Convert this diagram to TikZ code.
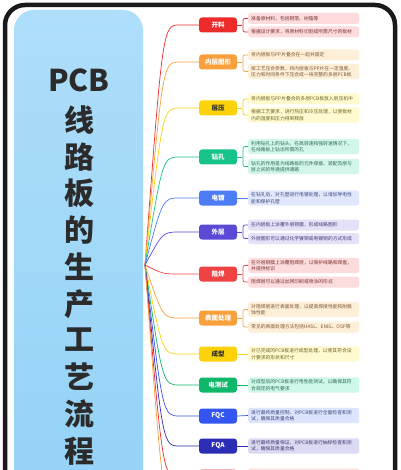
\documentclass[tikz,border=0pt]{standalone}
\usepackage{fontspec}
\setmainfont{Noto Sans CJK SC}
\XeTeXlinebreaklocale "zh"
\usetikzlibrary{calc}
\definecolor{cRed}{HTML}{EE2B2B}
\definecolor{bRed}{HTML}{FCDCDC}
\definecolor{tRed}{HTML}{7A3030}
\definecolor{cOra}{HTML}{F8A03C}
\definecolor{bOra}{HTML}{FEEFD9}
\definecolor{tOra}{HTML}{7A5530}
\definecolor{cYel}{HTML}{FCD20A}
\definecolor{bYel}{HTML}{FFFAD0}
\definecolor{tYel}{HTML}{6E6220}
\definecolor{cGre}{HTML}{17C38A}
\definecolor{bGre}{HTML}{D3F6EA}
\definecolor{tGre}{HTML}{2E6A55}
\definecolor{cBlu}{HTML}{4C7DF5}
\definecolor{bBlu}{HTML}{E1E8FD}
\definecolor{tBlu}{HTML}{3A4878}
\definecolor{cInd}{HTML}{5A4AD6}
\definecolor{bInd}{HTML}{E4E1F9}
\definecolor{tInd}{HTML}{403A70}
\definecolor{cRd2}{HTML}{F04444}
\definecolor{cGr2}{HTML}{0EB868}
\definecolor{bGr2}{HTML}{CFF7EA}
\definecolor{cFqc}{HTML}{3355F0}
\definecolor{bFqc}{HTML}{DDE4FD}
\definecolor{cFqa}{HTML}{2B2DB5}
\definecolor{bFqa}{HTML}{DADAF3}
\definecolor{titleC}{HTML}{2B2B2B}
\definecolor{frameC}{HTML}{1A1A1A}
\definecolor{panTop}{HTML}{AEDEFA}
\definecolor{panMid}{HTML}{C6E9FC}
\definecolor{panBot}{HTML}{92D1F6}
\newcommand{\mbranch}[2]{\draw[br,#2] (root) .. controls ($(#1.west)+(-36,0)$) .. ($(#1.west)+(-19,0)$) -- (#1.west);}
\newcommand{\mbracket}[4]{\draw[br,#4] (#1.east) -- ++(5,0);
  \draw[br,#4,rounded corners=2pt] (#2.west) -- ++(-5,0) |- (#3.west);}
\newcommand{\msingle}[3]{\draw[br,#3] (#1.east) -- (#2.west);}
\begin{document}
\begin{tikzpicture}[x=1pt,y=-1pt,
  titlech/.style={font=\fontsize{30}{30}\selectfont\bfseries, text=titleC, inner sep=0pt},
  cat/.style={rounded corners=3pt, minimum width=38pt, minimum height=15pt, inner sep=1pt,
    font=\fontsize{6.5}{7}\selectfont\bfseries, text=white},
  det/.style={rounded corners=2.5pt, anchor=west, text width=105pt, align=left,
    inner xsep=3pt, inner ysep=2.2pt, minimum height=11pt,
    font=\fontsize{4.8}{6.4}\selectfont},
  br/.style={line width=0.7pt}]
\useasboundingbox (0,0) rectangle (400,470);
\clip (0,0) rectangle (400,470);
\fill[white] (0,0) rectangle (400,470);
\draw[line width=4.5pt, frameC, rounded corners=20pt] (5,5) rectangle (395,540);
\shade[top color=panTop, middle color=panMid, bottom color=panBot, rounded corners=20pt] (14,10) rectangle (143,540);
% title
\node[titlech] (tP) at (79,80) {PCB};
\node[titlech] (t1) at (79,120) {线};
\node[titlech] (t2) at (79,157) {路};
\node[titlech] (t3) at (79,193) {板};
\node[titlech] (t4) at (79,230) {的};
\node[titlech] (t5) at (79,267) {生};
\node[titlech] (t6) at (79,304) {产};
\node[titlech] (t7) at (79,340) {工};
\node[titlech] (t8) at (79,377) {艺};
\node[titlech] (t9) at (79,414) {流};
\node[titlech] (t10) at (79,451) {程};
\coordinate (root) at (145,265);
% 1
\node[cat, fill=cRed] (n1) at (218,25) {开料};
\node[det, fill=bRed, text=tRed] (d1a) at (248,18.5) {准备原材料，包括铜箔、树脂等};
\node[det, fill=bRed, text=tRed] (d1b) at (248,32) {根据设计要求，将原材料切割成所需尺寸的板材};
\mbranch{n1}{cRed}\mbracket{n1}{d1a}{d1b}{cRed}
% 2
\node[cat, fill=cOra] (n2) at (218,62) {内层图形};
\node[det, fill=bOra, text=tOra] (d2a) at (248,55) {将内层板与PP片叠合在一起并固定};
\node[det, fill=bOra, text=tOra] (d2b) at (248,71.5) {按工艺压合参数，将内层板与PP片在一定温度、\\压力和时间条件下压合成一块完整的多层PCB板};
\mbranch{n2}{cOra}\mbracket{n2}{d2a}{d2b}{cOra}
% 3
\node[cat, fill=cYel, text=titleC] (n3) at (218,108) {层压};
\node[det, fill=bYel, text=tYel] (d3a) at (248,99) {将内层板与PP片叠合的多层PCB板放入层压机中};
\node[det, fill=bYel, text=tYel] (d3b) at (248,115) {根据工艺要求，进行热压和冷压处理，以使板材\\内的温度和压力得到释放};
\mbranch{n3}{cYel}\mbracket{n3}{d3a}{d3b}{cYel}
% 4
\node[cat, fill=cGre] (n4) at (218,157) {钻孔};
\node[det, fill=bGre, text=tGre] (d4a) at (248,146.5) {利用钻孔上的钻头，在高转速和强转速情况下，\\在线路板上钻出所需的孔};
\node[det, fill=bGre, text=tGre] (d4b) at (248,166.5) {钻孔的作用是为线路板的元件焊接、装配及层与\\层之间的导通提供通路};
\mbranch{n4}{cGre}\mbracket{n4}{d4a}{d4b}{cGre}
% 5
\node[cat, fill=cBlu] (n5) at (218,198) {电镀};
\node[det, fill=bBlu, text=tBlu] (d5) at (248,198) {在钻孔后，对孔壁进行电镀处理，以增加导电性\\能和保护孔壁};
\mbranch{n5}{cBlu}\msingle{n5}{d5}{cBlu}
% 6
\node[cat, fill=cInd] (n6) at (218,232) {外层};
\node[det, fill=bInd, text=tInd] (d6a) at (248,225) {在内层板上涂覆外层铜膜，形成线路图形};
\node[det, fill=bInd, text=tInd] (d6b) at (248,238.5) {外层图形可以通过化学镀铜或电镀铜的方式形成};
\mbranch{n6}{cInd}\mbracket{n6}{d6a}{d6b}{cInd}
% 7
\node[cat, fill=cRd2] (n7) at (218,274) {阻焊};
\node[det, fill=bRed, text=tRed] (d7a) at (248,265.5) {在外层铜膜上涂覆阻焊层，以保护线路和焊盘，\\并提供标识};
\node[det, fill=bRed, text=tRed] (d7b) at (248,282) {阻焊层可以通过丝网印刷或喷涂的形式};
\mbranch{n7}{cRd2}\mbracket{n7}{d7a}{d7b}{cRd2}
% 8
\node[cat, fill=cOra] (n8) at (218,318) {表面处理};
\node[det, fill=bOra, text=tOra] (d8a) at (248,309.5) {对阻焊层进行表面处理，以提高焊接性能和耐腐\\蚀性能};
\node[det, fill=bOra, text=tOra] (d8b) at (248,327) {常见的表面处理方法包括HASL、ENIG、OSP等};
\mbranch{n8}{cOra}\mbracket{n8}{d8a}{d8b}{cOra}
% 9
\node[cat, fill=cYel, text=titleC] (n9) at (218,354) {成型};
\node[det, fill=bYel, text=tYel] (d9) at (248,354) {对已完成的PCB板进行成型处理，以使其符合设\\计要求的形状和尺寸};
\mbranch{n9}{cYel}\msingle{n9}{d9}{cYel}
% 10
\node[cat, fill=cGr2] (n10) at (218,385) {电测试};
\node[det, fill=bGr2, text=tGre] (d10) at (248,385) {对成型后的PCB板进行电性能测试，以确保其符\\合规定的电气要求};
\mbranch{n10}{cGr2}\msingle{n10}{d10}{cGr2}
% 11
\node[cat, fill=cFqc] (n11) at (218,416) {FQC};
\node[det, fill=bFqc, text=tBlu] (d11) at (248,415.5) {进行最终质量控制，对PCB板进行全面检查和测\\试，确保其质量合格};
\mbranch{n11}{cFqc}\msingle{n11}{d11}{cFqc}
% 12
\node[cat, fill=cFqa] (n12) at (218,446) {FQA};
\node[det, fill=bFqa, text=tInd] (d12) at (248,446) {进行最终质量保证，对PCB板进行抽样检查和测\\试，确保其质量合格};
\mbranch{n12}{cFqa}\msingle{n12}{d12}{cFqa}
% 13 (cut off)
\node[cat, fill=cRed] (n13) at (218,477) {};
\node[det, fill=bRed, minimum height=17pt] (d13) at (248,477) {};
\mbranch{n13}{cRed}\msingle{n13}{d13}{cRed}
\coordinate (n14) at (199,508);
\draw[br,cOra] (root) .. controls ($(n14)+(-36,0)$) .. ($(n14)+(-19,0)$) -- (n14);
\end{tikzpicture}
\end{document}
